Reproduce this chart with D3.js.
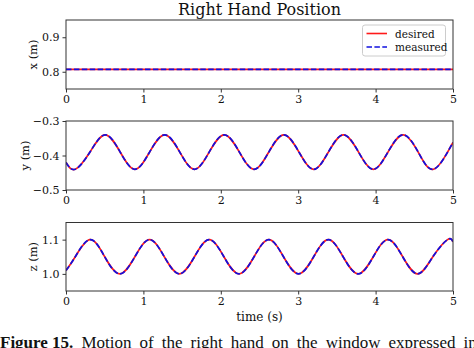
<!DOCTYPE html>
<html>
<head>
<meta charset="utf-8">
<script src="https://cdn.jsdelivr.net/npm/d3@7"></script>
<style>
  html, body { margin: 0; padding: 0; background: #fff; }
  svg { display: block; }
</style>
</head>
<body>
<svg id="chart" width="474" height="348"></svg>
<script>
// ---- data ----
const xTicks = [0, 1, 2, 3, 4, 5];
const seriesNames = ["desired", "measured"];

// x (m): constant
const tX = [0, 1, 2, 3, 4, 5];
const desiredX = [0.807, 0.807, 0.807, 0.807, 0.807, 0.807];
const measuredX = [0.807, 0.807, 0.807, 0.807, 0.807, 0.807];
const yTicksX = [0.8, 0.9];

// y (m): extrema and mid crossings
const tY = [0, 0.12, 0.31, 0.505, 0.70, 0.89, 1.08, 1.275, 1.47, 1.66, 1.85, 2.045, 2.24, 2.43, 2.62, 2.815, 3.01, 3.20, 3.39, 3.585, 3.78, 3.97, 4.16, 4.355, 4.55, 4.74, 4.93, 5];
const desiredY = [-0.42, -0.44, -0.39, -0.34, -0.39, -0.44, -0.39, -0.34, -0.39, -0.44, -0.39, -0.34, -0.39, -0.44, -0.39, -0.34, -0.39, -0.44, -0.39, -0.34, -0.39, -0.44, -0.39, -0.34, -0.39, -0.44, -0.39, -0.362];
const measuredY = [-0.42, -0.44, -0.39, -0.34, -0.39, -0.44, -0.39, -0.34, -0.39, -0.44, -0.39, -0.34, -0.39, -0.44, -0.39, -0.34, -0.39, -0.44, -0.39, -0.34, -0.39, -0.44, -0.39, -0.34, -0.39, -0.44, -0.39, -0.362];
const yTicksY = [-0.5, -0.4, -0.3];

// z (m): extrema and mid crossings
const tZ = [0, 0.12, 0.31, 0.50, 0.695, 0.89, 1.08, 1.27, 1.465, 1.66, 1.85, 2.04, 2.235, 2.43, 2.62, 2.81, 3.005, 3.20, 3.39, 3.58, 3.775, 3.97, 4.16, 4.35, 4.545, 4.74, 4.93, 5];
const desiredZ = [1.01, 1.05, 1.10, 1.05, 1.00, 1.05, 1.10, 1.05, 1.00, 1.05, 1.10, 1.05, 1.00, 1.05, 1.10, 1.05, 1.00, 1.05, 1.10, 1.05, 1.00, 1.05, 1.10, 1.05, 1.00, 1.05, 1.10, 1.093];
const measuredZ = [1.01, 1.05, 1.10, 1.05, 1.00, 1.05, 1.10, 1.05, 1.00, 1.05, 1.10, 1.05, 1.00, 1.05, 1.10, 1.05, 1.00, 1.05, 1.10, 1.05, 1.00, 1.05, 1.10, 1.05, 1.00, 1.05, 1.10, 1.093];
const yTicksZ = [1.0, 1.1];

// ---- layout ----
const svg = d3.select("#chart");
const left = 66, right = 453;
const serif = "'DejaVu Serif', serif";
const x = d3.scaleLinear().domain([0, 5]).range([left, right]);

const panels = [
  { t: tX, d: desiredX, m: measuredX, dom: [0.75, 0.95], top: 20, bottom: 89, ticks: yTicksX, label: "x (m)", lx: 37 },
  { t: tY, d: desiredY, m: measuredY, dom: [-0.5, -0.3], top: 121, bottom: 190, ticks: yTicksY, label: "y (m)", lx: 29 },
  { t: tZ, d: desiredZ, m: measuredZ, dom: [0.95, 1.15], top: 222.5, bottom: 291, ticks: yTicksZ, label: "z (m)", lx: 37 }
];

panels.forEach((p, i) => {
  const y = d3.scaleLinear().domain(p.dom).range([p.bottom, p.top]);
  const g = svg.append("g");
  const clipId = "clip" + i;
  svg.append("clipPath").attr("id", clipId)
    .append("rect").attr("x", left).attr("y", p.top).attr("width", right - left).attr("height", p.bottom - p.top);

  const line = d3.line().x((d, k) => x(p.t[k])).y(d => y(d)).curve(d3.curveNatural);
  const lg = g.append("g").attr("clip-path", `url(#${clipId})`);
  lg.append("path").attr("d", line(p.d)).attr("fill", "none")
    .attr("stroke", "#ff1a1a").attr("stroke-width", 1.7);
  lg.append("path").attr("d", line(p.m)).attr("fill", "none")
    .attr("stroke", "#1010e0").attr("stroke-width", 1.7).attr("stroke-dasharray", "5.5,2.4");

  // frame
  g.append("rect").attr("x", left).attr("y", p.top).attr("width", right - left).attr("height", p.bottom - p.top)
    .attr("fill", "none").attr("stroke", "#333").attr("stroke-width", 1);

  // axes
  const xa = g.append("g").attr("transform", `translate(0,${p.bottom})`)
    .call(d3.axisBottom(x).tickValues(xTicks).tickSize(3.5).tickPadding(3).tickFormat(d3.format("d")));
  const ya = g.append("g").attr("transform", `translate(${left},0)`)
    .call(d3.axisLeft(y).tickValues(p.ticks).tickSize(3.5).tickPadding(3).tickFormat(d3.format(".1f")));
  [xa, ya].forEach(a => {
    a.select(".domain").remove();
    a.selectAll("line").attr("stroke", "#333");
    a.selectAll("text").attr("font-family", serif).attr("font-size", 11).attr("fill", "#111");
  });

  g.append("text").attr("transform", `translate(${p.lx},${(p.top + p.bottom) / 2}) rotate(-90)`)
    .attr("text-anchor", "middle").attr("font-family", serif).attr("font-size", 11.5).attr("fill", "#111")
    .text(p.label);
});

// title
svg.append("text").attr("x", (left + right) / 2).attr("y", 15).attr("text-anchor", "middle")
  .attr("font-family", serif).attr("font-size", 16).attr("fill", "#111").text("Right Hand Position");

// x label
svg.append("text").attr("x", (left + right) / 2).attr("y", 321).attr("text-anchor", "middle")
  .attr("font-family", serif).attr("font-size", 12).attr("fill", "#111").text("time (s)");

// legend
const leg = svg.append("g");
leg.append("rect").attr("x", 362.5).attr("y", 25).attr("width", 83).attr("height", 31).attr("rx", 2.5)
  .attr("fill", "#fff").attr("fill-opacity", 0.8).attr("stroke", "#ccc").attr("stroke-width", 1);
const legColors = ["#ff1a1a", "#1010e0"];
seriesNames.forEach((name, k) => {
  const ly = 33.5 + k * 13.5;
  leg.append("line").attr("x1", 366.5).attr("x2", 387).attr("y1", ly).attr("y2", ly)
    .attr("stroke", legColors[k]).attr("stroke-width", 1.6)
    .attr("stroke-dasharray", k === 1 ? "5.5,2.4" : null);
  leg.append("text").attr("x", 395).attr("y", ly + 4).attr("font-family", serif).attr("font-size", 10.5)
    .attr("fill", "#111").text(name);
});

// caption (cut off at bottom, justified in the source so words are spread)
const cap = svg.append("text").attr("x", 0).attr("y", 348)
  .attr("font-family", "'Liberation Serif', serif").attr("font-size", 17).attr("fill", "#111");
cap.append("tspan").attr("font-weight", "bold").text("Figure 15.");
cap.append("tspan").attr("word-spacing", 3.8).text("  Motion of the right hand on the window expressed in");
</script>
</body>
</html>
